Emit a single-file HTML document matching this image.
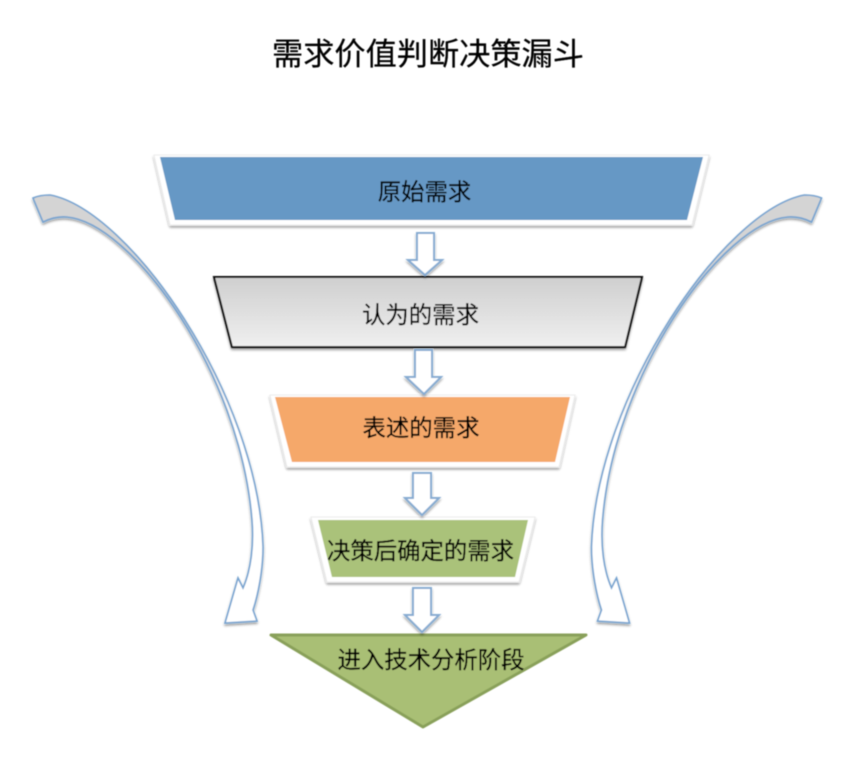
<!DOCTYPE html>
<html>
<head>
<meta charset="utf-8">
<style>
html,body{margin:0;padding:0;background:#fff;width:864px;height:778px;overflow:hidden}
svg{display:block}
text{font-family:"Liberation Sans","Noto Sans CJK SC",sans-serif;fill:#000;text-anchor:middle;stroke:#000;stroke-width:.25}
</style>
</head>
<body>
<svg width="864" height="778" viewBox="0 0 864 778" xmlns="http://www.w3.org/2000/svg">
<defs>
<linearGradient id="g" x1="0" y1="0" x2="0" y2="1"><stop offset="0" stop-color="#cfcfcf"/><stop offset="1" stop-color="#efefef"/></linearGradient>
<linearGradient id="la" gradientUnits="userSpaceOnUse" x1="60" y1="200" x2="235" y2="430"><stop offset="0" stop-color="#d4d4d4"/><stop offset="0.6" stop-color="#d4d4d4"/><stop offset="1" stop-color="#ffffff"/></linearGradient>
<filter id="s" x="-10%" y="-20%" width="120%" height="140%"><feGaussianBlur in="SourceAlpha" stdDeviation="1.3"/><feOffset dy="2"/><feComponentTransfer><feFuncA type="linear" slope="0.4"/></feComponentTransfer><feMerge><feMergeNode/><feMergeNode in="SourceGraphic"/></feMerge></filter>
<filter id="b" x="-5%" y="-5%" width="110%" height="110%"><feGaussianBlur stdDeviation="0.4"/></filter>
</defs>

<g filter="url(#b)">
<!-- curved arrows -->
<g filter="url(#s)" stroke="#76a3d0" stroke-width="1.6" stroke-linejoin="miter">
<path id="ca" fill="url(#la)" d="M33 198 Q40 195 50 195 C130 210 258 395 263 547 C263 570 258 595 253 610 L257 621 L225 623 L238 578 L243 588 C251 570 254 545 252 520 C240 370 130 222 67 217 Q55 216 43 222 Z"/>
<path fill="url(#la)" transform="translate(854.5 0) scale(-1 1)" d="M33 198 Q40 195 50 195 C130 210 258 395 263 547 C263 570 258 595 253 610 L257 621 L225 623 L238 578 L243 588 C251 570 254 545 252 520 C240 370 130 222 67 217 Q55 216 43 222 Z"/>
</g>

<!-- blue -->
<polygon points="154,155 709,155 692,225 170,225" fill="#fff" stroke="#ececec" stroke-width="1" filter="url(#s)"/>
<polygon points="160,157 703,157 687,220 175,220" fill="#6698c5"/>

<!-- gray -->
<polygon points="214,277 642,277 625,347 232,347" fill="url(#g)" stroke="#111" stroke-width="2" filter="url(#s)"/>

<!-- orange -->
<polygon points="270,395 575,395 559,467 287,467" fill="#fff" stroke="#ececec" stroke-width="1" filter="url(#s)"/>
<polygon points="275,397 570,397 555,462 292,462" fill="#f5a86b"/>

<!-- green -->
<polygon points="311,517 535,517 519,582 327,582" fill="#fff" stroke="#ececec" stroke-width="1" filter="url(#s)"/>
<polygon points="318,520 528,520 515,577 332,577" fill="#aac27a"/>

<!-- triangle -->
<polygon points="271,635 586,635 423,727" fill="#a9bf74" stroke="#89a05a" stroke-width="3" stroke-linejoin="round"/>

<!-- straight arrows -->
<g fill="#fff" stroke="#86abd2" stroke-width="2" stroke-linejoin="miter" filter="url(#s)">
<polygon points="417,233 434,233 434,260 442,260 425,275 408,260 417,260"/>
<polygon points="415,350 432,350 432,377 441,377 424,394 406,377 415,377"/>
<polygon points="413,473 431,473 431,498 439,498 422,515 405,498 413,498"/>
<polygon points="413,588 431,588 431,615 439,615 422,632 405,615 413,615"/>
</g>

<!-- labels -->
<text x="428" y="65" font-size="31.2">需求价值判断决策漏斗</text>
<text x="424.5" y="200" font-size="23.4">原始需求</text>
<text x="420.5" y="323" font-size="23.4">认为的需求</text>
<text x="421" y="436" font-size="23.4">表述的需求</text>
<text x="420.5" y="559" font-size="23.4">决策后确定的需求</text>
<text x="431" y="668" font-size="23.4">进入技术分析阶段</text>
</g>
</svg>
</body>
</html>
